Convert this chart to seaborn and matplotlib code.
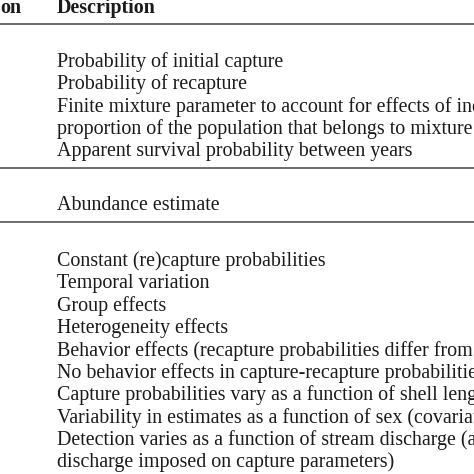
import matplotlib
matplotlib.use("Agg")
import matplotlib.pyplot as plt
import seaborn as sns

# Table text (as visible in the cropped reference)
header = ["on", "Description"]
params_desc = [
    "Probability of initial capture",
    "Probability of recapture",
    "Finite mixture parameter to account for effects of ind",
    "proportion of the population that belongs to mixture",
    "Apparent survival probability between years",
]
derived_desc = ["Abundance estimate"]
model_desc = [
    "Constant (re)capture probabilities",
    "Temporal variation",
    "Group effects",
    "Heterogeneity effects",
    "Behavior effects (recapture probabilities differ from i",
    "No behavior effects in capture-recapture probabilitie",
    "Capture probabilities vary as a function of shell leng",
    "Variability in estimates as a function of sex (covariat",
    "Detection varies as a function of stream discharge (a",
    "discharge imposed on capture parameters)",
]

sns.set_theme(style="white")
plt.rcParams['font.family'] = ['Liberation Serif', 'DejaVu Serif']

fig = plt.figure(figsize=(4.74, 4.74), dpi=100)
ax = fig.add_axes([0, 0, 1, 1])
ax.set_xlim(0, 474)
ax.set_ylim(474, 0)
ax.axis("off")

fs = 14.4
col = "#1a1a1a"
ax.text(0, 8, header[0], fontsize=fs, fontweight="bold", va="center", ha="left", color=col)
ax.text(57, 8, header[1], fontsize=fs, fontweight="bold", va="center", ha="left", color=col)

for yl in [24, 168, 222]:
    ax.plot([0, 474], [yl, yl], color="#555555", lw=1.2)

step = 22.4
for i, t in enumerate(params_desc):
    ax.text(57, 62 + i * step, t, fontsize=fs, va="center", ha="left", color=col)
for i, t in enumerate(derived_desc):
    ax.text(57, 206 + i * step, t, fontsize=fs, va="center", ha="left", color=col)
for i, t in enumerate(model_desc):
    ax.text(57, 261 + i * step, t, fontsize=fs, va="center", ha="left", color=col)

fig.savefig("out.png", dpi=100)
